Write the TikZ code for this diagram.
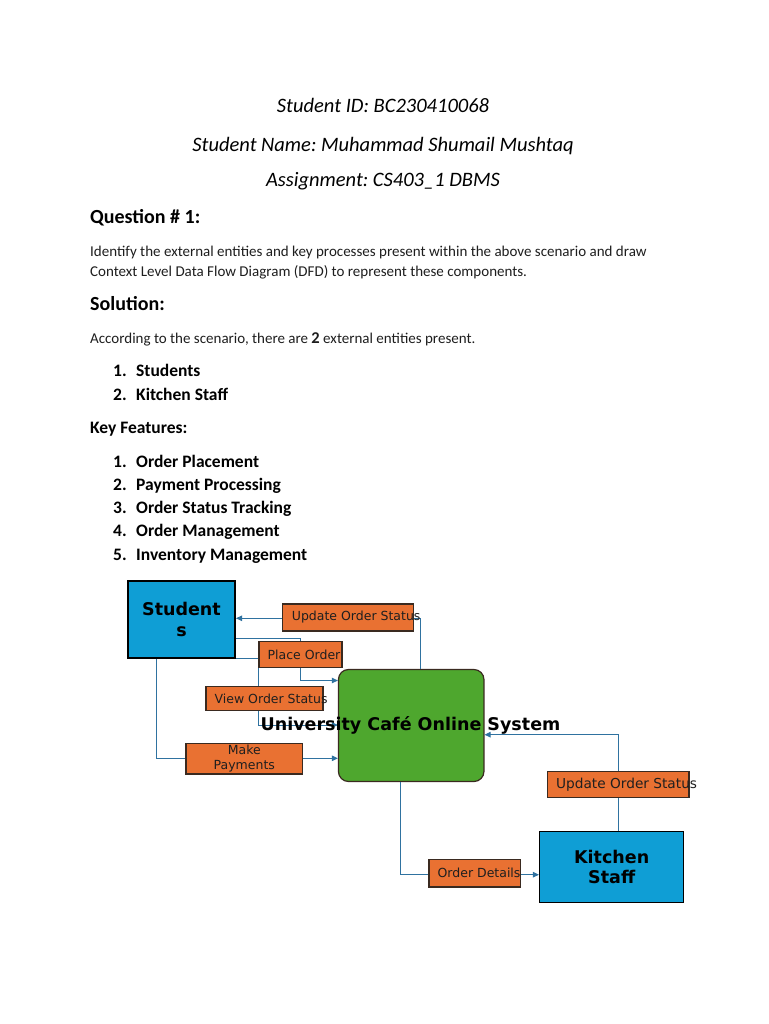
\documentclass[tikz,border=0pt]{standalone}
\usepackage{fontspec}
\setmainfont{Carlito}
\newfontfamily\djv{DejaVu Sans}
\usetikzlibrary{arrows.meta,calc}
\definecolor{entblue}{HTML}{0F9ED5}
\definecolor{flowor}{HTML}{E97132}
\definecolor{procgreen}{HTML}{4EA72E}
\definecolor{linec}{HTML}{2F72A0}
\definecolor{boxedge}{HTML}{3A2A20}
\definecolor{bodytxt}{HTML}{1E1E1E}
\frenchspacing
\tikzset{
  ent/.style={draw=black, fill=entblue, inner sep=0, align=center,
    font=\djv\bfseries\fontsize{17.5}{20.5}\selectfont},
  flowbox/.style={draw=boxedge, fill=flowor, inner sep=0, line width=1.2pt},
  flowtxt/.style={font=\djv\fontsize{12.5}{15}\selectfont, inner sep=0, anchor=west, text=black!88},
  flow/.style={draw=linec, line width=0.9pt},
  arr/.style={-{Triangle[length=6pt,width=5.5pt]}},
  ttl/.style={font=\itshape\fontsize{20.5}{23}\selectfont, anchor=base, inner sep=0},
  head/.style={font=\bfseries\fontsize{20}{24}\selectfont, anchor=base west, inner sep=0},
  body/.style={font=\fontsize{15}{20}\selectfont, anchor=base west, inner sep=0, text=bodytxt},
  itm/.style={font=\bfseries\fontsize{17.5}{20}\selectfont, anchor=base west, inner sep=0},
}
\begin{document}
\begin{tikzpicture}[x=1pt,y=-1pt]
\useasboundingbox (0,0) rectangle (768,1024);
\fill[white] (0,0) rectangle (768,1024);

% ---- header text ----
\node[ttl] (sid) at (383,113) {Student ID: BC230410068};
\node[ttl] (sname) at (383,151.5) {Student Name: Muhammad Shumail Mushtaq};
\node[ttl] (asg) at (383,187) {Assignment: CS403\_1 DBMS};
\node[head] (q1) at (90,223) {Question \# 1:};
\node[body] (p1) at (90,256.5) {Identify the external entities and key processes present within the above scenario and draw};
\node[body] (p2) at (90,276.5) {Context Level Data Flow Diagram (DFD) to represent these components.};
\node[head] (sol) at (90,310.5) {Solution:};
\node[body] (acc) at (90,343) {According to the scenario, there are \textbf{\fontsize{16.5}{20}\selectfont 2} external entities present.};
\node[itm] (n1) at (113,376.5) {1.};
\node[itm] (e1) at (136,376.5) {Students};
\node[itm] (n2) at (113,400) {2.};
\node[itm] (e2) at (136,400) {Kitchen Staff};
\node[itm] (kf) at (90,433) {Key Features:};
\node[itm] (m1) at (113,467) {1.};
\node[itm] (f1) at (136,467) {Order Placement};
\node[itm] (m2) at (113,490.5) {2.};
\node[itm] (f2) at (136,490.5) {Payment Processing};
\node[itm] (m3) at (113,513.5) {3.};
\node[itm] (f3) at (136,513.5) {Order Status Tracking};
\node[itm] (m4) at (113,536.5) {4.};
\node[itm] (f4) at (136,536.5) {Order Management};
\node[itm] (m5) at (113,560) {5.};
\node[itm] (f5) at (136,560) {Inventory Management};

% ---- diagram shapes ----
\node[draw=boxedge, fill=procgreen, line width=1.2pt, rounded corners=10pt,
  minimum width=145.5pt, minimum height=112pt, inner sep=0] (green) at (411.2,725.5) {};
\node[ent, line width=2pt, minimum width=107pt, minimum height=77pt] (stu) at (181.5,619.5) {Student\\s};
\node[ent, line width=1pt, minimum width=144.5pt, minimum height=70.5pt] (kit) at (611.7,867) {Kitchen\\Staff};

% ---- junctions ----
\coordinate (j1) at (420.7,618.3);
\coordinate (j2) at (300.3,638.3);
\coordinate (j3) at (300.3,680.5);
\coordinate (j4) at (258.3,658.8);
\coordinate (j5) at (258.3,725);
\coordinate (j6) at (156,758.3);
\coordinate (j7) at (618.7,734.7);
\coordinate (j8) at (400,874.7);

% ---- connectors ----
\draw[flow,arr] (green.north -| j1) -- (j1) -- (stu.east |- j1);
\draw[flow,arr] (stu.east |- j2) -- (j2) -- (j3) -- (green.west |- j3);
\draw[flow,arr] (stu.east |- j4) -- (j4) -- (j5) -- (green.west |- j5);
\draw[flow,arr] (stu.south -| j6) -- (j6) -- (green.west |- j6);
\draw[flow,arr] (kit.north -| j7) -- (j7) -- (green.east |- j7);
\draw[flow,arr] (green.south -| j8) -- (j8) -- (kit.west |- j8);

% ---- flow label boxes ----
\node[flowbox, minimum width=131pt, minimum height=27pt] (uos1) at (347.8,617.5) {};
\node[flowbox, minimum width=83pt, minimum height=25.5pt] (po) at (300.5,654.5) {};
\node[flowbox, minimum width=117pt, minimum height=24.5pt] (vos) at (264.5,698.5) {};
\node[flowbox, minimum width=116.5pt, minimum height=30.5pt] (mp) at (244.3,758.7) {};
\node[flowbox, minimum width=141.5pt, minimum height=26pt] (uos2) at (618.3,784.8) {};
\node[flowbox, minimum width=91.5pt, minimum height=27.5pt] (od) at (474.8,873.2) {};

\node[flowtxt] (tuos1) at ($(uos1.west)+(10,0)$) {Update Order Status};
\node[flowtxt] (tpo) at ($(po.west)+(9,0)$) {Place Order};
\node[flowtxt] (tvos) at ($(vos.west)+(9,0)$) {View Order Status};
\node[flowtxt, anchor=center, align=center, font=\djv\fontsize{12.5}{15}\selectfont] (tmp) at (mp.center) {Make\\Payments};
\node[flowtxt, font=\djv\fontsize{13.7}{16}\selectfont] (tuos2) at ($(uos2.west)+(9,0)$) {Update Order Status};
\node[flowtxt] (tod) at ($(od.west)+(9,0)$) {Order Details};

\node[font=\djv\bfseries\fontsize{17.5}{20}\selectfont, inner sep=0] (gtxt) at (410.5,725) {University Café Online System};
\end{tikzpicture}
\end{document}
